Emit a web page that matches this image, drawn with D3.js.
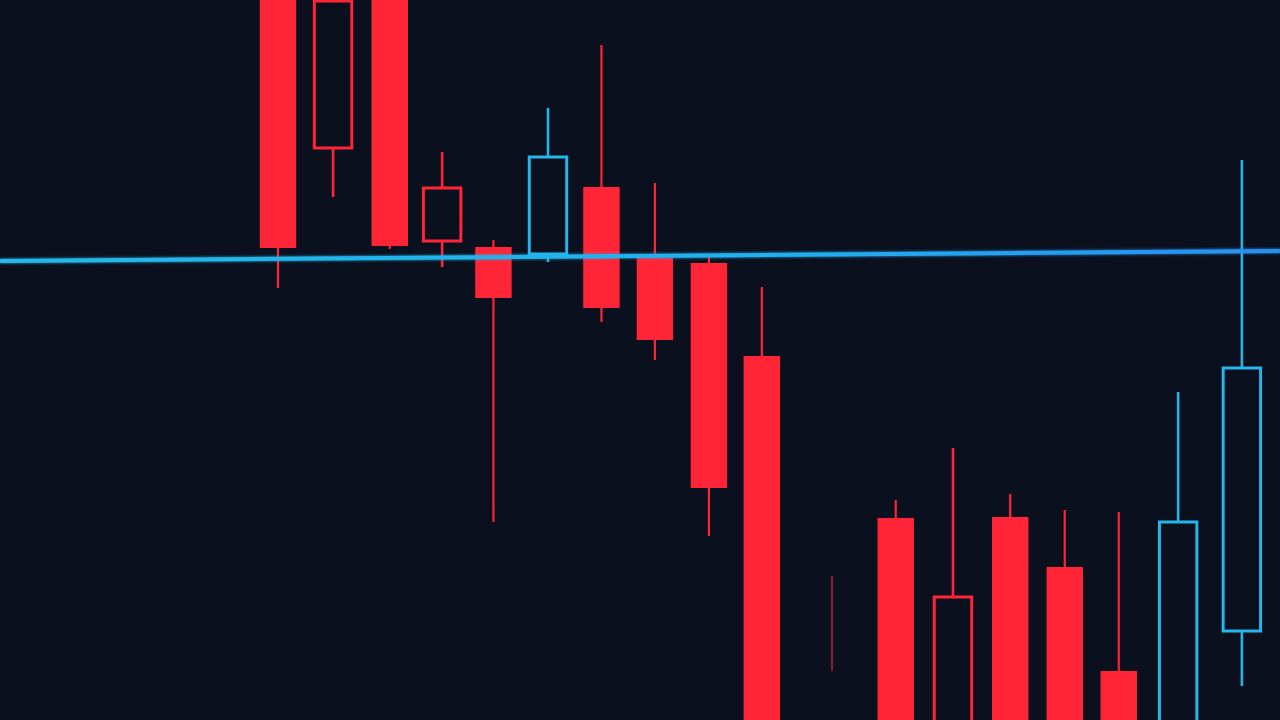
<!DOCTYPE html>
<html><head><meta charset="utf-8">
<script src="https://cdn.jsdelivr.net/npm/d3@7"></script>
<style>html,body{margin:0;padding:0;background:#0a101e;overflow:hidden}</style>
</head><body><svg id="c" width="1280" height="720"></svg>
<script>
// time index of each candle
const times  = [0, 1.02, 2.07, 3.04, 3.99, 5.0, 5.99, 6.98, 7.98, 8.96, 10.26, 11.44, 12.5, 13.56, 14.57, 15.57, 16.67, 17.85];
const opens  = [80, 57.2, 80, 47.9, 47.3, 46.6, 53.3, 46.2, 45.7, 36.4, null, 20.2, -10, 20.3, 15.3, 4.9, -10, 8.9];
const highs  = [85, 75, 85, 56.8, 48.0, 61.2, 67.5, 53.7, 46.3, 43.3, 14.4, 22.0, 27.2, 22.6, 21.0, 20.8, 32.8, 56.0];
const lows   = [43.2, 52.3, 47.1, 45.3, 19.8, 45.8, 39.8, 36.0, 18.4, -15, 4.9, -15, -15, -15, -15, -15, -15, 3.4];
const closes = [47.2, 71.9, 47.4, 53.2, 42.2, 56.3, 41.2, 38.0, 23.2, -10, null, -10, 12.3, -10, -10, -10, 19.8, 35.2];
const colors = ["red","red","red","red","red","blue","red","red","red","red","red","red","red","red","red","red","blue","blue"];
const alphas = [1,1,1,1,1,1,1,1,1,1,0.55,1,1,1,1,1,1,1];
// support line
const lineTimes  = [-5.148, 18.556];
const linePrices = [45.9, 46.9];

const W = 1280, H = 720;
const palette = {red: "#ff2436", blue: "#27b4ea"};
const svg = d3.select("#c");
const x = d3.scaleLinear().domain([-5.148, 18.556]).range([0, W]);
const y = d3.scaleLinear().domain([0, 72]).range([H, 0]);

const data = times.map((t, i) => ({t, o: opens[i], h: highs[i], l: lows[i], c: closes[i], col: palette[colors[i]], a: alphas[i]}));
const bw = x(0.675) - x(0);

const defs = svg.append("defs");
const g = defs.append("linearGradient").attr("id", "lg").attr("x1", "0%").attr("x2", "100%");
g.append("stop").attr("offset", "0%").attr("stop-color", "#25b8ea");
g.append("stop").attr("offset", "60%").attr("stop-color", "#23b0ee");
g.append("stop").attr("offset", "100%").attr("stop-color", "#2a8ff2");
const f = defs.append("filter").attr("id", "glow").attr("x", "-10%").attr("y", "-200%").attr("width", "120%").attr("height", "500%");
f.append("feGaussianBlur").attr("stdDeviation", 1.5).attr("result", "b");
const m = f.append("feMerge");
m.append("feMergeNode").attr("in", "b");
m.append("feMergeNode").attr("in", "SourceGraphic");

svg.append("rect").attr("width", W).attr("height", H).attr("fill", "#0a101e");

const cg = svg.selectAll("g.candle").data(data).join("g").attr("class", "candle").attr("opacity", d => d.a);

cg.each(function(d) {
  const sel = d3.select(this);
  const cx = x(d.t);
  const hollow = d.o != null && d.c > d.o;
  const ww = hollow ? 2.6 : 2.2;
  if (d.o == null) {
    sel.append("line").attr("x1", cx).attr("x2", cx).attr("y1", y(d.h)).attr("y2", y(d.l))
      .attr("stroke", d.col).attr("stroke-width", 2);
    return;
  }
  const top = Math.max(d.o, d.c), bot = Math.min(d.o, d.c);
  sel.append("line").attr("x1", cx).attr("x2", cx).attr("y1", y(d.h)).attr("y2", y(top))
    .attr("stroke", d.col).attr("stroke-width", ww);
  sel.append("line").attr("x1", cx).attr("x2", cx).attr("y1", y(bot)).attr("y2", y(d.l))
    .attr("stroke", d.col).attr("stroke-width", ww);
  if (hollow) {
    sel.append("rect").attr("x", cx - bw / 2 - 0.5).attr("width", bw + 1)
      .attr("y", y(top)).attr("height", y(bot) - y(top))
      .attr("fill", "#0a101e").attr("stroke", d.col).attr("stroke-width", 3);
  } else {
    sel.append("rect").attr("x", cx - bw / 2).attr("width", bw)
      .attr("y", y(top)).attr("height", y(bot) - y(top))
      .attr("fill", d.col);
  }
});

const lineGen = d3.line().x(d => x(d[0])).y(d => y(d[1]));
svg.append("path").datum(lineTimes.map((t, i) => [t, linePrices[i]]))
  .attr("d", lineGen).attr("fill", "none").attr("stroke", "url(#lg)").attr("stroke-width", 4)
  .attr("filter", "url(#glow)");
</script></body></html>
